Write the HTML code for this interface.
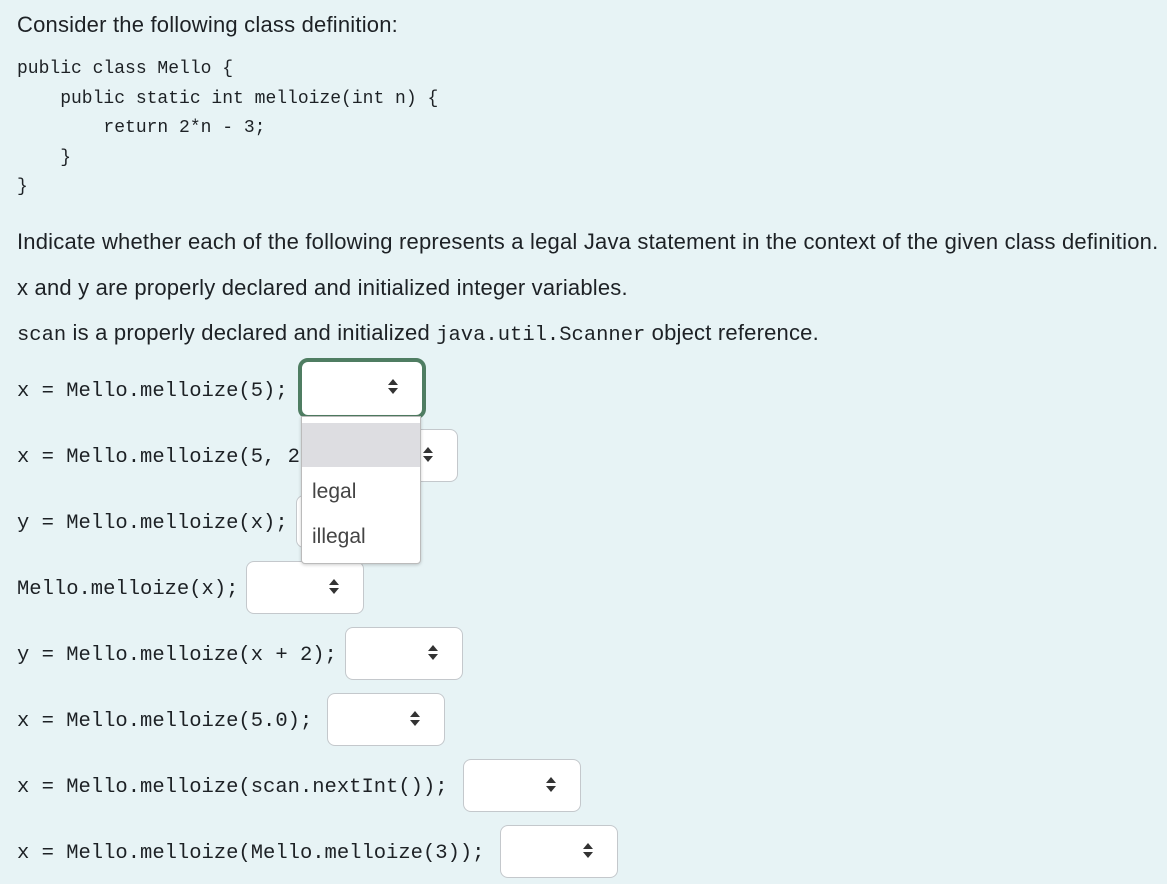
<!DOCTYPE html>
<html><head><style>
body{margin:0;width:1167px;height:884px;background:#e7f3f5;position:relative;overflow:hidden;font-family:"Liberation Sans",sans-serif;color:#1d2125}
.t{position:absolute;left:17px;font-size:22px;letter-spacing:0.2px;white-space:nowrap;line-height:24px}
.c{position:absolute;left:17px;font-family:"Liberation Mono",monospace;font-size:18px;white-space:pre;line-height:29.6px;top:55px}
.s{position:absolute;left:17px;font-family:"Liberation Mono",monospace;font-size:20.5px;white-space:pre;line-height:24px}
.sel{position:absolute;width:116px;height:51px;background:#fff;border:1px solid #c4c8cc;border-radius:8px}
.sel:after{content:"";position:absolute;right:24px;top:17px;width:0;height:0;border-left:5px solid transparent;border-right:5px solid transparent;border-bottom:6px solid #333}
.sel:before{content:"";position:absolute;right:24px;top:26px;width:0;height:0;border-left:5px solid transparent;border-right:5px solid transparent;border-top:6px solid #333}
code{font-family:"Liberation Mono",monospace;font-size:20.5px;letter-spacing:0}
</style></head><body>
<div class="t" style="top:13px">Consider the following class definition:</div>
<div class="c">public class Mello {
    public static int melloize(int n) {
        return 2*n - 3;
    }
}</div>
<div class="t" style="top:230px">Indicate whether each of the following represents a legal Java statement in the context of the given class definition.</div>
<div class="t" style="top:276px">x and y are properly declared and initialized integer variables.</div>
<div class="t" style="top:321px"><code>scan</code> is a properly declared and initialized <code>java.util.Scanner</code> object reference.</div>

<div class="s" style="top:380px">x = Mello.melloize(5);</div>
<div class="s" style="top:446px">x = Mello.melloize(5, 2);</div>
<div class="s" style="top:512px">y = Mello.melloize(x);</div>
<div class="s" style="top:578px">Mello.melloize(x);</div>
<div class="s" style="top:644px">y = Mello.melloize(x + 2);</div>
<div class="s" style="top:710px">x = Mello.melloize(5.0);</div>
<div class="s" style="top:776px">x = Mello.melloize(scan.nextInt());</div>
<div class="s" style="top:842px">x = Mello.melloize(Mello.melloize(3));</div>

<div class="sel" style="left:340px;top:429px"></div>
<div class="sel" style="left:296px;top:495px"></div>
<div class="sel" style="left:246px;top:561px"></div>
<div class="sel" style="left:345px;top:627px"></div>
<div class="sel" style="left:327px;top:693px"></div>
<div class="sel" style="left:463px;top:759px"></div>
<div class="sel" style="left:500px;top:825px"></div>

<div class="sel" style="left:298px;top:358px;width:120px;height:53px;border:4px solid #4f7d62;border-radius:10px"></div>

<div style="position:absolute;left:301px;top:416px;width:118px;height:146px;background:#fff;border:1px solid #bbb;border-radius:0 0 4px 4px;box-shadow:0 1px 3px rgba(0,0,0,.2)">
<div style="position:absolute;left:0;top:6px;width:118px;height:44px;background:#dddde1"></div>
<div style="position:absolute;left:10px;top:63px;font-size:21px;color:#444">legal</div>
<div style="position:absolute;left:10px;top:108px;font-size:21px;color:#444">illegal</div>
</div>
</body></html>
